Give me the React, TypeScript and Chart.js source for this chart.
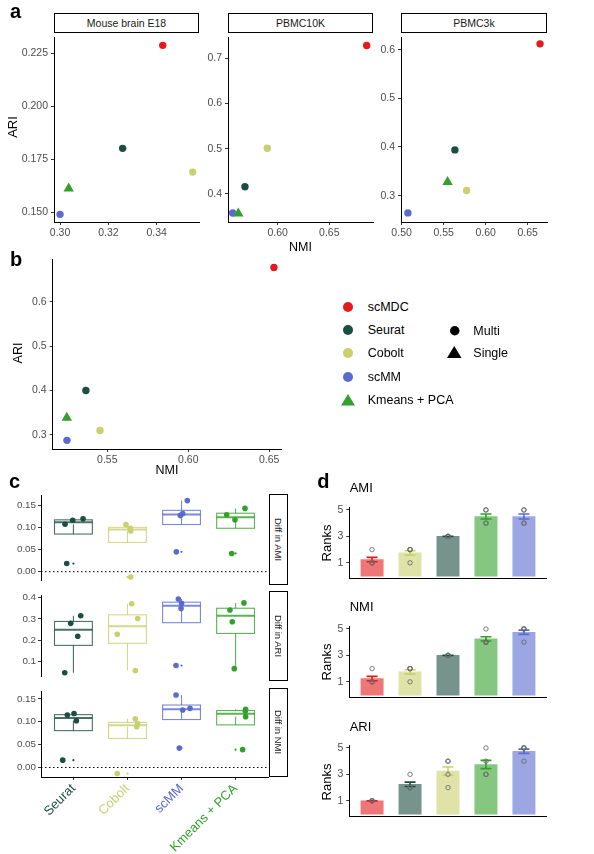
import React, { useEffect, useRef } from "react";
import { Chart, registerables } from "chart.js";

Chart.register(...registerables);

const FONT = '"Liberation Sans", Arial, Helvetica, sans-serif';
const TICK = "#4D4D4D";
Chart.defaults.font.family = FONT;

// ---------- methods ----------
const methods = ["scMDC", "Seurat", "Cobolt", "scMM", "Kmeans + PCA"];
const methodColors = ["#E41A1C", "#1B4D40", "#C9D06E", "#5A6BCF", "#33A02C"];
const methodShapes = ["circle", "circle", "circle", "circle", "triangle"];
const typeLabels = ["Multi", "Single"];
const typeShapes = ["circle", "triangle"];

// ---------- panel a ----------
const facetNames = ["Mouse brain E18", "PBMC10K", "PBMC3k"];
const e18NMI = [0.3425, 0.3259, 0.3549, 0.3, 0.3036];
const e18ARI = [0.2287, 0.1802, 0.169, 0.1491, 0.1613];
const pbmc10kNMI = [0.6862, 0.5684, 0.59, 0.5565, 0.562];
const pbmc10kARI = [0.728, 0.4158, 0.501, 0.358, 0.357];
const pbmc3kNMI = [0.6646, 0.5634, 0.5773, 0.5075, 0.5547];
const pbmc3kARI = [0.612, 0.394, 0.3107, 0.2645, 0.328];
const e18XTicks = [0.3, 0.32, 0.34];
const e18YTicks = [0.15, 0.175, 0.2, 0.225];
const pbmc10kXTicks = [0.6, 0.65];
const pbmc10kYTicks = [0.4, 0.5, 0.6, 0.7];
const pbmc3kXTicks = [0.5, 0.55, 0.6, 0.65];
const pbmc3kYTicks = [0.3, 0.4, 0.5, 0.6];

// ---------- panel b ----------
const avgNMI = [0.6529, 0.5368, 0.5455, 0.5251, 0.525];
const avgARI = [0.6777, 0.4, 0.3098, 0.2875, 0.3385];
const bXTicks = [0.55, 0.6, 0.65];
const bYTicks = [0.3, 0.4, 0.5, 0.6];

// ---------- panel c ----------
const cMethodIdx = [1, 2, 3, 4]; // Seurat, Cobolt, scMM, Kmeans + PCA
const cFacetLabels = ["Diff in AMI", "Diff in ARI", "Diff in NMI"];
const diffAMI = [
  [0.0183, 0.1068, 0.1159, 0.1189],
  [-0.0121, 0.0917, 0.0977, 0.1061],
  [0.0446, 0.1267, 0.1307, 0.16],
  [0.041, 0.1166, 0.128, 0.1424],
];
const jitterAMI = [
  [-0.124, -0.155, -0.013, 0.178],
  [0.06, 0.06, 0.05, -0.028],
  [-0.096, -0.022, 0.022, 0.107],
  [-0.072, -0.011, -0.165, 0.174],
];
const diffARI = [
  [0.047, 0.2185, 0.2789, 0.3145],
  [0.058, 0.2277, 0.3017, 0.3706],
  [0.081, 0.349, 0.373, 0.393],
  [0.0664, 0.2866, 0.3412, 0.3748],
];
const jitterARI = [
  [-0.161, 0.08, -0.05, 0.135],
  [0.146, -0.189, 0.189, 0.078],
  [-0.102, -0.009, 0.0, -0.059],
  [-0.024, -0.061, -0.104, 0.155],
];
const diffNMI = [
  [0.016, 0.102, 0.1146, 0.118],
  [-0.0131, 0.089, 0.0958, 0.1063],
  [0.0423, 0.1256, 0.1292, 0.1583],
  [0.039, 0.1111, 0.1235, 0.1271],
];
const jitterNMI = [
  [-0.198, 0.054, -0.113, 0.011],
  [-0.189, 0.17, 0.189, 0.144],
  [-0.041, 0.022, 0.157, -0.102],
  [0.131, 0.187, 0.18, 0.187],
];
const cAMITicks = [0, 0.05, 0.1, 0.15];
const cARITicks = [0.1, 0.2, 0.3, 0.4];
const cNMITicks = [0, 0.05, 0.1, 0.15];

// ---------- panel d ----------
const rankTitles = ["AMI", "NMI", "ARI"];
const amiOrder = [0, 2, 1, 4, 3];
const nmiOrder = [0, 2, 1, 4, 3];
const ariOrder = [0, 1, 2, 4, 3];
const amiRanks = [
  [1, 1, 1, 1, 1, 1, 2, 2],
  [3, 3, 3, 3, 3, 3, 3, 3],
  [2, 2, 2, 2, 2, 2, 1, 1],
  [5, 5, 5, 5, 4, 4, 4, 4],
  [4, 4, 4, 4, 5, 5, 5, 5],
];
const nmiRanks = [
  [1, 1, 1, 1, 1, 1, 2, 2],
  [3, 3, 3, 3, 3, 3, 3, 3],
  [2, 2, 2, 2, 2, 2, 1, 1],
  [5, 5, 5, 5, 5, 5, 4, 4],
  [4, 4, 4, 4, 4, 4, 5, 5],
];
const ariRanks = [
  [1, 1, 1, 1, 1, 1, 1, 1],
  [2, 2, 2, 2, 2, 2, 3, 3],
  [2, 2, 3, 3, 4, 4, 4, 4],
  [5, 5, 5, 5, 5, 5, 4, 4],
  [3, 3, 3, 3, 4, 4, 5, 5],
];
const rankYTicks = [1, 3, 5];

// ---------- helpers ----------
type Box = { x: number; y: number; w: number; h: number };
type Area = { l: number; t: number; r: number; b: number };

function rgba(hex: string, a: number) {
  const n = parseInt(hex.slice(1), 16);
  return `rgba(${(n >> 16) & 255},${(n >> 8) & 255},${n & 255},${a})`;
}
const mean = (a: number[]) => a.reduce((s, v) => s + v, 0) / a.length;
const stderr = (a: number[]) => {
  const m = mean(a);
  const v = a.reduce((s, x) => s + (x - m) * (x - m), 0) / (a.length - 1);
  return Math.sqrt(v / a.length);
};
function quantile(s: number[], p: number) {
  const h = (s.length - 1) * p;
  const lo = Math.floor(h);
  const hi = Math.ceil(h);
  return s[lo] + (h - lo) * (s[hi] - s[lo]);
}

function makeAxis(o: any) {
  return {
    type: "linear",
    display: o.display ?? true,
    offset: false,
    min: o.min,
    max: o.max,
    afterBuildTicks: (s: any) => {
      s.ticks = (o.ticks || []).map((v: number) => ({ value: v }));
    },
    afterFit: (s: any) => {
      if (o.isX) s.height = o.fit;
      else s.width = o.fit;
    },
    ticks: {
      display: o.showLabels ?? true,
      autoSkip: false,
      minRotation: o.rotation ?? 0,
      maxRotation: o.rotation ?? 0,
      padding: o.padding ?? 2,
      color: o.colors ? (c: any) => o.colors[c.index] ?? TICK : TICK,
      font: { size: o.fontSize ?? 10.5, family: FONT },
      callback: o.labels
        ? (_v: any, i: number) => o.labels[i]
        : (v: any) => Number(v).toFixed(o.decimals ?? 1),
    },
    grid: {
      display: o.showTicks ?? true,
      offset: false,
      drawOnChartArea: false,
      drawTicks: true,
      tickLength: 3,
      color: "#333333",
      lineWidth: 1,
    },
    border: { display: true, color: "#000000", width: 1 },
  };
}

function baseOptions(box: Box, area: Area, withX: boolean, scales: any) {
  return {
    animation: false,
    responsive: false,
    maintainAspectRatio: false,
    events: [],
    layout: {
      padding: {
        left: 0,
        top: area.t - box.y,
        right: box.x + box.w - area.r,
        bottom: withX ? 0 : box.y + box.h - area.b,
      },
    },
    plugins: { legend: { display: false }, tooltip: { enabled: false }, title: { display: false } },
    scales,
  };
}

function scatterChart(
  canvas: HTMLCanvasElement, box: Box, area: Area, xs: number[], ys: number[],
  xr: number[], yr: number[], xt: number[], yt: number[], xd: number, yd: number
) {
  const datasets = methods.map((m, i) => ({
    label: m,
    data: [{ x: xs[i], y: ys[i] }],
    pointStyle: methodShapes[i],
    pointRadius: methodShapes[i] === "triangle" ? 6 : 3.7,
    pointBackgroundColor: methodColors[i],
    pointBorderWidth: 0,
    order: methods.length - 1 - i,
    clip: false,
  }));
  return new Chart(canvas, {
    type: "scatter",
    data: { datasets },
    options: baseOptions(box, area, true, {
      x: makeAxis({ min: xr[0], max: xr[1], ticks: xt, decimals: xd, isX: true, fit: box.y + box.h - area.b }),
      y: makeAxis({ min: yr[0], max: yr[1], ticks: yt, decimals: yd, isX: false, fit: area.l - box.x, padding: 3 }),
    }) as any,
  });
}

const boxHalfWidth = 0.35;
function boxPlugin(groups: number[][]) {
  return {
    id: "boxes",
    beforeDatasetsDraw(chart: any) {
      const { ctx, scales } = chart;
      const xs = scales.x;
      const ys = scales.y;
      groups.forEach((vals, i) => {
        const s = [...vals].sort((a, b) => a - b);
        const q1 = quantile(s, 0.25);
        const q2 = quantile(s, 0.5);
        const q3 = quantile(s, 0.75);
        const iqr = q3 - q1;
        const inside = s.filter((v) => v >= q1 - 1.5 * iqr && v <= q3 + 1.5 * iqr);
        const outl = s.filter((v) => !inside.includes(v));
        const lo = Math.min(...inside);
        const hi = Math.max(...inside);
        const cx = xs.getPixelForValue(i + 1);
        const hw = xs.getPixelForValue(i + 1 + boxHalfWidth) - cx;
        const col = methodColors[cMethodIdx[i]];
        ctx.save();
        ctx.strokeStyle = rgba(col, 0.8);
        ctx.lineWidth = 1.1;
        ctx.beginPath();
        ctx.moveTo(cx, ys.getPixelForValue(q3));
        ctx.lineTo(cx, ys.getPixelForValue(hi));
        ctx.moveTo(cx, ys.getPixelForValue(q1));
        ctx.lineTo(cx, ys.getPixelForValue(lo));
        ctx.stroke();
        const yT = ys.getPixelForValue(q3);
        const yB = ys.getPixelForValue(q1);
        ctx.strokeRect(cx - hw, yT, 2 * hw, yB - yT);
        ctx.lineWidth = 2;
        const ym = ys.getPixelForValue(q2);
        ctx.beginPath();
        ctx.moveTo(cx - hw, ym);
        ctx.lineTo(cx + hw, ym);
        ctx.stroke();
        ctx.fillStyle = col;
        outl.forEach((v) => {
          ctx.beginPath();
          ctx.arc(cx, ys.getPixelForValue(v), 1.1, 0, Math.PI * 2);
          ctx.fill();
        });
        ctx.restore();
      });
    },
  };
}

function boxChart(
  canvas: HTMLCanvasElement, box: Box, area: Area, withX: boolean,
  groups: number[][], jit: number[][], yr: number[], yt: number[], yd: number
) {
  const datasets: any[] = groups.map((vals, i) => ({
    type: "scatter",
    data: vals.map((v, j) => ({ x: i + 1 + jit[i][j], y: v })),
    pointRadius: 2.8,
    pointBackgroundColor: methodColors[cMethodIdx[i]],
    pointBorderWidth: 0,
    clip: false,
    order: 1,
  }));
  if (yr[0] < 0) {
    datasets.push({
      type: "line",
      data: [{ x: 0.4, y: 0 }, { x: 4.6, y: 0 }],
      borderColor: "#000000",
      borderWidth: 1,
      borderDash: [1.5, 2.5],
      pointRadius: 0,
      order: 5,
      clip: false,
    });
  }
  return new Chart(canvas, {
    type: "scatter",
    data: { datasets },
    options: baseOptions(box, area, withX, {
      x: makeAxis({
        display: withX, min: 0.4, max: 4.6, ticks: [1, 2, 3, 4], isX: true, fit: box.y + box.h - area.b,
        labels: cMethodIdx.map((k) => methods[k]), colors: cMethodIdx.map((k) => methodColors[k]),
        rotation: 45, fontSize: 13, padding: 1,
      }),
      y: makeAxis({ min: yr[0], max: yr[1], ticks: yt, decimals: yd, isX: false, fit: area.l - box.x, fontSize: 9.8, padding: 2 }),
    }) as any,
    plugins: [boxPlugin(groups)],
  });
}

const capHalf = 0.145;
function errorBarPlugin(order: number[], ranks: number[][]) {
  return {
    id: "errbars",
    afterDatasetDraw(chart: any, args: any) {
      if (args.index !== 1) return;
      const { ctx, scales } = chart;
      const xs = scales.x;
      const ys = scales.y;
      order.forEach((m, k) => {
        const vals = ranks[m];
        const mu = mean(vals);
        const se = stderr(vals);
        const cx = xs.getPixelForValue(k + 1);
        const half = xs.getPixelForValue(k + 1 + capHalf) - cx;
        const top = ys.getPixelForValue(mu + se);
        const bot = ys.getPixelForValue(mu - se);
        ctx.save();
        ctx.strokeStyle = methodColors[m];
        ctx.lineWidth = 1.6;
        ctx.beginPath();
        ctx.moveTo(cx - half, top);
        ctx.lineTo(cx + half, top);
        ctx.moveTo(cx, top);
        ctx.lineTo(cx, bot);
        ctx.moveTo(cx - half, bot);
        ctx.lineTo(cx + half, bot);
        ctx.stroke();
        ctx.restore();
      });
    },
  };
}

function rankChart(canvas: HTMLCanvasElement, box: Box, area: Area, order: number[], ranks: number[][]) {
  const barData = order.map((m, k) => ({ x: k + 1, y: mean(ranks[m]) }));
  const pts: any[] = [];
  order.forEach((m, k) => ranks[m].forEach((v) => pts.push({ x: k + 1, y: v })));
  return new Chart(canvas, {
    type: "bar",
    data: {
      datasets: [
        {
          type: "scatter",
          data: pts,
          pointRadius: 2.2,
          pointBackgroundColor: "rgba(0,0,0,0)",
          pointBorderColor: "rgba(105,105,105,0.55)",
          pointBorderWidth: 0.9,
          order: 0,
          clip: false,
        } as any,
        {
          type: "bar",
          data: barData,
          backgroundColor: order.map((m) => rgba(methodColors[m], 0.6)),
          borderWidth: 0,
          barThickness: 22.3,
          order: 1,
        } as any,
      ],
    },
    options: baseOptions(box, area, true, {
      x: makeAxis({ min: 0.4, max: 5.6, ticks: [], isX: true, fit: box.y + box.h - area.b, showLabels: false, showTicks: false }),
      y: makeAxis({ min: -0.2, max: 5.2, ticks: rankYTicks, decimals: 0, isX: false, fit: area.l - box.x, fontSize: 10.5, padding: 3 }),
    }) as any,
    plugins: [errorBarPlugin(order, ranks)],
  });
}

function ChartCanvas({ box, make }: { box: Box; make: (c: HTMLCanvasElement) => Chart }) {
  const ref = useRef<HTMLCanvasElement>(null);
  useEffect(() => {
    const chart = make(ref.current as HTMLCanvasElement);
    return () => chart.destroy();
  }, []);
  return (
    <canvas
      ref={ref}
      width={box.w}
      height={box.h}
      style={{ position: "absolute", left: box.x, top: box.y, width: box.w, height: box.h }}
    />
  );
}

function Txt({ x, y, size, children, bold = false, color = "#000", anchor = "middle" }: any) {
  const tx = anchor === "middle" ? "-50%" : anchor === "end" ? "-100%" : "0";
  return (
    <div
      style={{
        position: "absolute", left: x, top: y - 0.8465 * size, fontSize: size, lineHeight: `${size}px`,
        fontWeight: bold ? 700 : 400, color, whiteSpace: "nowrap", transform: `translateX(${tx})`,
      }}
    >
      {children}
    </div>
  );
}

function VTxt({ x, y, size, children, color = "#000" }: any) {
  return (
    <div
      style={{
        position: "absolute", left: x, top: y, fontSize: size, lineHeight: `${size}px`, color,
        whiteSpace: "nowrap", transform: "translate(-50%,-50%) rotate(-90deg)",
      }}
    >
      {children}
    </div>
  );
}

function Strip({ x, y, w, h, label, vertical = false, size }: any) {
  return (
    <div
      style={{
        position: "absolute", left: x, top: y, width: w, height: h, boxSizing: "border-box",
        border: "1.5px solid #000", background: "#fff", display: "flex", alignItems: "center",
        justifyContent: "center", fontSize: size, color: "#1A1A1A", whiteSpace: "nowrap",
        writingMode: vertical ? "vertical-rl" : "horizontal-tb",
      }}
    >
      {label}
    </div>
  );
}

function Mark({ x, y, shape, color, size }: any) {
  const s = size + 6;
  const c = s / 2;
  return (
    <svg width={s} height={s} style={{ position: "absolute", left: x - c, top: y - c }}>
      {shape === "triangle" ? (
        <polygon
          points={`${c},${c - size * 0.5} ${c + size * 0.58},${c + size * 0.45} ${c - size * 0.58},${c + size * 0.45}`}
          fill={color}
        />
      ) : (
        <circle cx={c} cy={c} r={size / 2} fill={color} />
      )}
    </svg>
  );
}

// ---------- layout boxes ----------
const aBoxes: Box[] = [
  { x: 0, y: 28, w: 210, h: 215 },
  { x: 200, y: 28, w: 180, h: 215 },
  { x: 375, y: 28, w: 219, h: 215 },
];
const aAreas: Area[] = [
  { l: 54, t: 33, r: 199, b: 222 },
  { l: 228, t: 33, r: 373, b: 222 },
  { l: 401, t: 33, r: 547, b: 222 },
];
const bBox: Box = { x: 0, y: 250, w: 300, h: 215 };
const bArea: Area = { l: 52.7, t: 257.7, r: 281.7, b: 449 };
const cBoxes: Box[] = [
  { x: 0, y: 488, w: 300, h: 100 },
  { x: 0, y: 588, w: 300, h: 96 },
  { x: 0, y: 684, w: 300, h: 170 },
];
const cAreas: Area[] = [
  { l: 41, t: 495, r: 268, b: 584.3 },
  { l: 41, t: 591.5, r: 268, b: 681 },
  { l: 41, t: 687.7, r: 268, b: 777 },
];
const dBoxes: Box[] = [
  { x: 300, y: 498, w: 294, h: 90 },
  { x: 300, y: 617, w: 294, h: 90 },
  { x: 300, y: 736, w: 294, h: 90 },
];
const dAreas: Area[] = [
  { l: 349.3, t: 502.3, r: 546.7, b: 583.3 },
  { l: 349.3, t: 621.7, r: 546.7, b: 703.3 },
  { l: 349.3, t: 740.7, r: 546.7, b: 822.7 },
];

export default function App() {
  const aData = [
    { xs: e18NMI, ys: e18ARI, xr: [0.2975, 0.3575], yr: [0.1455, 0.2325], xt: e18XTicks, yt: e18YTicks, xd: 2, yd: 3 },
    { xs: pbmc10kNMI, ys: pbmc10kARI, xr: [0.552, 0.6923], yr: [0.338, 0.746], xt: pbmc10kXTicks, yt: pbmc10kYTicks, xd: 2, yd: 1 },
    { xs: pbmc3kNMI, ys: pbmc3kARI, xr: [0.4993, 0.6729], yr: [0.2458, 0.6255], xt: pbmc3kXTicks, yt: pbmc3kYTicks, xd: 2, yd: 1 },
  ];
  const cData = [
    { g: diffAMI, j: jitterAMI, yr: [-0.019, 0.1706], yt: cAMITicks, yd: 2 },
    { g: diffARI, j: jitterARI, yr: [0.0315, 0.4076], yt: cARITicks, yd: 1 },
    { g: diffNMI, j: jitterNMI, yr: [-0.0208, 0.1652], yt: cNMITicks, yd: 2 },
  ];
  const dData = [
    { order: amiOrder, ranks: amiRanks },
    { order: nmiOrder, ranks: nmiRanks },
    { order: ariOrder, ranks: ariRanks },
  ];
  const dTitleBase = [491.7, 611, 731];
  const dRanksY = [543, 662, 782];
  const cStrips = [
    { y: 494.3, h: 90.7 },
    { y: 591, h: 90 },
    { y: 687.7, h: 89.3 },
  ];
  return (
    <div
      style={{
        position: "absolute", left: 0, top: 0, width: 594, height: 854, background: "#fff",
        fontFamily: FONT, overflow: "hidden",
      }}
    >
      {/* panel a */}
      {aData.map((d, i) => (
        <ChartCanvas
          key={"a" + i}
          box={aBoxes[i]}
          make={(c) => scatterChart(c, aBoxes[i], aAreas[i], d.xs, d.ys, d.xr, d.yr, d.xt, d.yt, d.xd, d.yd)}
        />
      ))}
      {facetNames.map((n, i) => (
        <Strip key={n} x={aAreas[i].l} y={13} w={aAreas[i].r - aAreas[i].l} h={19.5} label={n} size={10.5} />
      ))}
      <VTxt x={11.7} y={127} size={13}>ARI</VTxt>
      <Txt x={300.5} y={251.7} size={12.5}>NMI</Txt>

      {/* panel b */}
      <ChartCanvas
        box={bBox}
        make={(c) => scatterChart(c, bBox, bArea, avgNMI, avgARI, [0.5163, 0.6577], [0.268, 0.6963], bXTicks, bYTicks, 2, 1)}
      />
      <VTxt x={17.5} y={353} size={12.5}>ARI</VTxt>
      <Txt x={167} y={475} size={12.5}>NMI</Txt>

      {/* legend */}
      {methods.map((m, i) => (
        <React.Fragment key={"lg" + m}>
          <Mark x={348.3} y={306.7 + i * 23.33} shape={methodShapes[i]} color={methodColors[i]} size={methodShapes[i] === "triangle" ? 12 : 10} />
          <Txt x={367.7} y={306.7 + i * 23.33 + 4.4} size={12.5} anchor="start">{m}</Txt>
        </React.Fragment>
      ))}
      {typeLabels.map((t, i) => (
        <React.Fragment key={"ty" + t}>
          <Mark x={454.3} y={330.7 + i * 22} shape={typeShapes[i]} color="#000" size={typeShapes[i] === "triangle" ? 12.5 : 9.5} />
          <Txt x={473.3} y={330.7 + i * 22 + 4.4} size={12.5} anchor="start">{t}</Txt>
        </React.Fragment>
      ))}

      {/* panel c */}
      {cData.map((d, i) => (
        <ChartCanvas
          key={"c" + i}
          box={cBoxes[i]}
          make={(c) => boxChart(c, cBoxes[i], cAreas[i], i === 2, d.g, d.j, d.yr, d.yt, d.yd)}
        />
      ))}
      {cFacetLabels.map((l, i) => (
        <Strip key={l} x={269.3} y={cStrips[i].y} w={18.5} h={cStrips[i].h} label={l} vertical size={9.5} />
      ))}

      {/* panel d */}
      {dData.map((d, i) => (
        <ChartCanvas
          key={"d" + i}
          box={dBoxes[i]}
          make={(c) => rankChart(c, dBoxes[i], dAreas[i], d.order, d.ranks)}
        />
      ))}
      {rankTitles.map((t, i) => (
        <React.Fragment key={"rt" + t}>
          <Txt x={349.7} y={dTitleBase[i]} size={13} anchor="start">{t}</Txt>
          <VTxt x={326} y={dRanksY[i]} size={13}>Ranks</VTxt>
        </React.Fragment>
      ))}

      {/* panel tags */}
      <Txt x={10} y={18.3} size={20} bold anchor="start">a</Txt>
      <Txt x={10} y={265.7} size={20} bold anchor="start">b</Txt>
      <Txt x={9} y={488.3} size={20} bold anchor="start">c</Txt>
      <Txt x={317.3} y={488.3} size={20} bold anchor="start">d</Txt>
    </div>
  );
}
